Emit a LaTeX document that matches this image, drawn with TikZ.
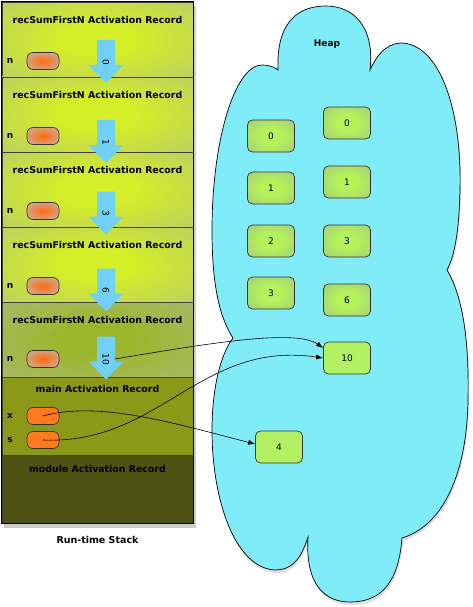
\documentclass[tikz,border=0pt]{standalone}
\usepackage{fontspec}
\setmainfont{DejaVu Sans}
\usetikzlibrary{arrows.meta,shadows}

\definecolor{reccore}{HTML}{D4EE28}
\definecolor{recmid}{HTML}{BCD060}
\definecolor{recedge}{HTML}{A6B29C}
\definecolor{lastcore}{HTML}{9CB62C}
\definecolor{lastmid}{HTML}{A8BA68}
\definecolor{lastedge}{HTML}{B0BAAA}
\definecolor{mainrec}{HTML}{8C9818}
\definecolor{modrec}{HTML}{4E5212}
\definecolor{flowblue}{HTML}{70D0F6}
\definecolor{heapblue}{HTML}{80ECF8}
\definecolor{pillcore}{HTML}{FF6A10}
\definecolor{pilledge}{HTML}{D8A07A}
\definecolor{pillnew}{HTML}{FF7A1E}
\definecolor{valcore}{HTML}{B4F35A}
\definecolor{valedge}{HTML}{A0B48E}
\definecolor{valnew}{HTML}{B2F064}

% Shadings for the records and heap values
\pgfdeclareradialshading{recglow}{\pgfpoint{0bp}{0bp}}{color(0bp)=(reccore); color(10bp)=(reccore); color(36bp)=(recmid); color(56bp)=(recedge); color(72bp)=(recedge)}
\pgfdeclareradialshading{lastglow}{\pgfpoint{0bp}{0bp}}{color(0bp)=(lastcore); color(10bp)=(lastcore); color(36bp)=(lastmid); color(56bp)=(lastedge); color(72bp)=(lastedge)}
\pgfdeclareradialshading{valglow}{\pgfpoint{0bp}{0bp}}{color(0bp)=(valcore); color(12bp)=(valcore); color(50bp)=(valedge); color(72bp)=(valedge)}

\begin{document}
\begin{tikzpicture}[x=1pt,y=-1pt,
    recbase/.style={draw=black!75, line width=0.7pt, minimum width=191pt, minimum height=75pt, inner sep=0pt},
    record/.style={recbase, shading=recglow},
    title/.style={font=\bfseries\fontsize{9.4}{11}\selectfont},
    varname/.style={font=\bfseries\fontsize{9}{10}\selectfont},
    pillbase/.style={draw=black!80, line width=0.6pt, rounded corners=6pt, minimum width=32pt, minimum height=17pt, inner sep=0pt},
    oldpill/.style={pillbase, inner color=pillcore, outer color=pilledge},
    newpill/.style={pillbase, fill=pillnew},
    flowlabel/.style={inner sep=2pt, font=\fontsize{9}{10}\selectfont},
    retarrow/.pic={\fill[flowblue] (-9,-21.5) -- (9,-21.5) -- (9,3.5) -- (17.5,3.5) -- (0,21.5) -- (-17.5,3.5) -- (-9,3.5) -- cycle;},
    valbase/.style={draw=black!80, line width=0.7pt, rounded corners=5pt, minimum width=47pt, minimum height=32pt, inner sep=0pt, font=\fontsize{9}{10}\selectfont},
    oldval/.style={valbase, shading=valglow},
    newval/.style={valbase, fill=valnew},
    ref/.style={-{Latex[length=7pt,width=5pt]}, line width=0.6pt}
]
\useasboundingbox (0,0) rectangle (473,607);

% Heap cloud
\draw[fill=heapblue, line width=0.7pt, drop shadow={shadow xshift=1pt, shadow yshift=-3pt, opacity=0.25}]
    (278,70) .. controls (276,20) and (300,6) .. (326,6)
    .. controls (352,6) and (375,25) .. (370,70)
    .. controls (380,48) and (392,43) .. (402,43)
    .. controls (440,45) and (462,110) .. (460,190)
    .. controls (459,230) and (455,255) .. (447,270)
    .. controls (465,300) and (469,350) .. (468,400)
    .. controls (467,470) and (445,525) .. (402,538)
    .. controls (398,590) and (375,602) .. (350,602)
    .. controls (325,602) and (305,585) .. (308,537)
    .. controls (300,562) and (290,570) .. (275,570)
    .. controls (235,568) and (212,500) .. (212,430)
    .. controls (212,390) and (220,355) .. (233,338)
    .. controls (218,315) and (212,280) .. (212,230)
    .. controls (212,140) and (235,65) .. (262,65)
    .. controls (270,65) and (276,68) .. (278,70) -- cycle;
\node[font=\bfseries\fontsize{9}{10}\selectfont] (heap) at (327,44) {Heap};

% Heap values
\node[oldval] (hl0) at (271,136) {0};
\node[oldval] (hl1) at (271,188) {1};
\node[oldval] (hl2) at (271,241) {2};
\node[oldval] (hl3) at (271,293) {3};
\node[oldval] (hr0) at (347,123) {0};
\node[oldval] (hr1) at (347,182) {1};
\node[oldval] (hr3) at (347,241) {3};
\node[oldval] (hr6) at (347,300) {6};
\node[newval] (h10) at (347,358) {10};
\node[newval] (h4) at (279,447) {4};

% Stack shadow
\fill[black, opacity=0.2] (4,6) rectangle (196,528);

% Activation records
\node[record] (f1) at (97.5,39.5) {};
\node[record] (f2) at (97.5,114.5) {};
\node[record] (f3) at (97.5,189.5) {};
\node[record] (f4) at (97.5,264.5) {};
\node[recbase, shading=lastglow] (f5) at (97.5,339.5) {};
\node[recbase, minimum height=78pt, fill=mainrec] (fm) at (97.5,416) {};
\node[recbase, minimum height=68pt, fill=modrec] (fg) at (97.5,489) {};
\draw[line width=0.8pt] (f1.north west) rectangle (fg.south east);

% Record titles
\node[title] (t1) at (97.5,20) {recSumFirstN Activation Record};
\node[title] (t2) at (97.5,95) {recSumFirstN Activation Record};
\node[title] (t3) at (97.5,170) {recSumFirstN Activation Record};
\node[title] (t4) at (97.5,245) {recSumFirstN Activation Record};
\node[title] (t5) at (97.5,320) {recSumFirstN Activation Record};
\node[title] (tm) at (97.5,389) {main Activation Record};
\node[title] (tg) at (97.5,469) {module Activation Record};

% Variables
\node[varname] (n1) at (10,61) {n};
\node[varname] (n2) at (10,136) {n};
\node[varname] (n3) at (10,211) {n};
\node[varname] (n4) at (10,286) {n};
\node[varname] (n5) at (10,359) {n};
\node[varname] (vx) at (10,416) {x};
\node[varname] (vs) at (10,440) {s};
\node[oldpill] (p1) at (43,61) {};
\node[oldpill] (p2) at (43,136) {};
\node[oldpill] (p3) at (43,211) {};
\node[oldpill] (p4) at (43,286) {};
\node[oldpill] (p5) at (43,359) {};
\node[newpill] (px) at (43,416) {};
\node[newpill] (ps) at (43,440) {};

% Returned values
\pic at (106,61.5) {retarrow};
\pic at (106,141.5) {retarrow};
\pic at (106,213) {retarrow};
\pic at (106,290) {retarrow};
\pic at (106,358) {retarrow};
\node[flowlabel, rotate=-90] (a1) at (106,62) {0};
\node[flowlabel, rotate=-90] (a2) at (106,142) {1};
\node[flowlabel, rotate=-90] (a3) at (106,213) {3};
\node[flowlabel, rotate=-90] (a4) at (106,290) {6};
\node[flowlabel, rotate=-90] (a5) at (106,359) {10};

\node[font=\bfseries\fontsize{9.5}{11}\selectfont] (rts) at (97.5,540) {Run-time Stack};

% References
\draw[ref] ([xshift=3pt]a5.north) .. controls (200,345) and (295,328) .. ([yshift=10pt]h10.west);
\draw[ref] (ps.center) .. controls (160,445) and (200,340) .. (h10.west);
\draw[ref] (px.center) .. controls (100,400) and (180,425) .. ([yshift=3pt]h4.west);
\end{tikzpicture}
\end{document}
